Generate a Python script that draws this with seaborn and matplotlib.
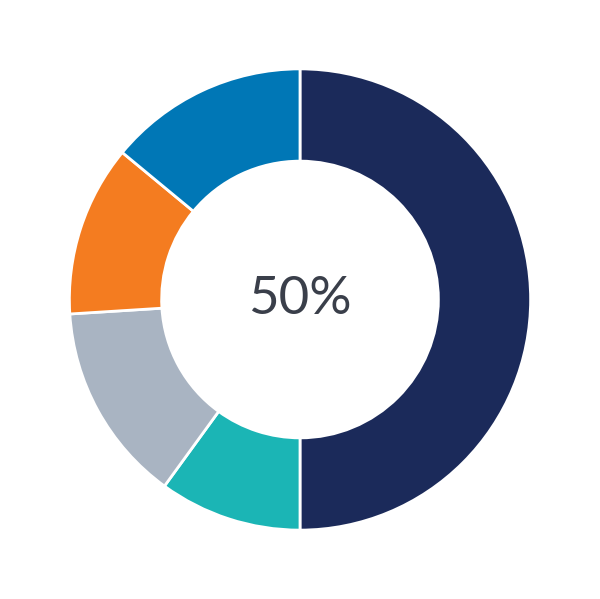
import matplotlib
matplotlib.use("Agg")
import matplotlib.pyplot as plt
import seaborn as sns

# Anteile der Segmente, im Uhrzeigersinn ab 12 Uhr
labels = ["Navy", "Teal", "Grau", "Orange", "Blau"]
values = [50, 10, 14, 12, 14]
colors = ["#1b2a5a", "#1bb5b5", "#a9b4c2", "#f47c20", "#0077b6"]
center_text = "50%"

sns.set_theme(style="white")
plt.rcParams['font.family'] = ['Lato', 'DejaVu Sans']

fig = plt.figure(figsize=(6.0, 5.99), dpi=100)
ax = fig.add_axes([0, 0, 1, 1])

ax.pie(values, colors=colors, startangle=90, counterclock=False, radius=1,
       wedgeprops=dict(width=0.4, edgecolor="white", linewidth=2))
ax.text(0, 0, center_text, ha="center", va="center", fontsize=38, color="#3a3f4a")

lim = 300 / 231
ax.set_xlim(-lim, lim)
ax.set_ylim(-lim, lim)
ax.set_aspect("equal")
ax.axis("off")

plt.savefig("out.png", dpi=100, facecolor="white")
